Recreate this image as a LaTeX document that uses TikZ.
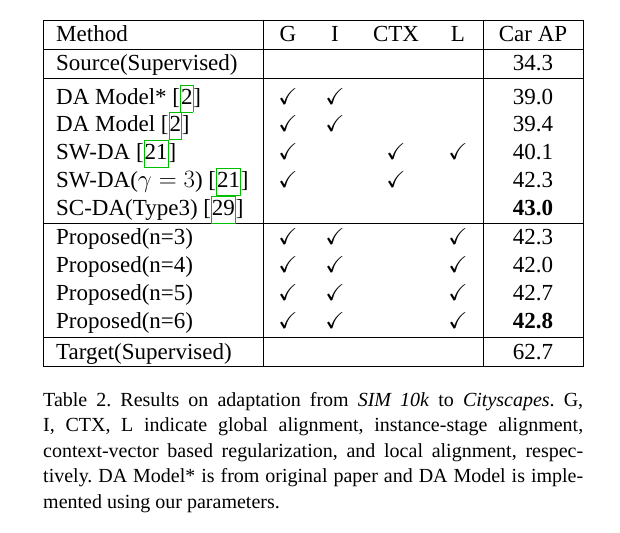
\documentclass[tikz,border=0pt]{standalone}
\usepackage{amssymb}
\usepackage{fontspec}
\setmainfont{Liberation Serif}
\frenchspacing
\newcommand{\cit}[1]{[{\setlength\fboxsep{0pt}\setlength\fboxrule{0.9pt}\fcolorbox{green!75!black}{white}{\strut#1}}]}
\newcommand{\ck}{$\checkmark$}
\begin{document}
\begin{tikzpicture}[x=1pt,y=-1pt,
  cell/.style={font=\fontsize{23}{26}\selectfont,inner sep=0pt,anchor=base west},
  mid/.style={font=\fontsize{23}{26}\selectfont,inner sep=0pt,anchor=base},
  rule/.style={line width=0.8pt}]
\useasboundingbox (0,0) rectangle (620,532);
\draw[rule] (43,20) rectangle (583,366);
\draw[rule] (263,20) -- (263,366);
\draw[rule] (483,20) -- (483,366);
\foreach \y in {49,78,223,337} \draw[rule] (43,\y) -- (583,\y);
\def\G{288}\def\I{335}\def\C{396}\def\L{458}\def\A{533}
\node[cell] (h0) at (56,42) {Method};
\node[mid] (h1) at (\G,42) {G};
\node[mid] (h2) at (\I,42) {I};
\node[mid] (h3) at (\C,42) {CTX};
\node[mid] (h4) at (\L,42) {L};
\node[mid] (h5) at (\A,42) {Car AP};
\node[cell] (r1) at (56,71) {Source(Supervised)};
\node[mid] (v1) at (\A,71) {34.3};
\node[cell] (r2) at (56,104) {DA Model* \cit{2}};
\node[mid] at (\G,104) {\ck};\node[mid] at (\I,104) {\ck};
\node[mid] (v2) at (\A,104) {39.0};
\node[cell] (r3) at (56,131) {DA Model \cit{2}};
\node[mid] at (\G,131) {\ck};\node[mid] at (\I,131) {\ck};
\node[mid] (v3) at (\A,131) {39.4};
\node[cell] (r4) at (56,159) {SW-DA \cit{21}};
\node[mid] at (\G,159) {\ck};\node[mid] at (\C,159) {\ck};\node[mid] at (\L,159) {\ck};
\node[mid] (v4) at (\A,159) {40.1};
\node[cell] (r5) at (56,187) {SW-DA($\gamma=3$) \cit{21}};
\node[mid] at (\G,187) {\ck};\node[mid] at (\C,187) {\ck};
\node[mid] (v5) at (\A,187) {42.3};
\node[cell] (r6) at (56,215) {SC-DA(Type3) \cit{29}};
\node[mid] (v6) at (\A,215) {\textbf{43.0}};
\foreach \n/\y/\v in {3/244/42.3,4/272/42.0,5/300/42.7,6/328/\textbf{42.8}}{
  \node[cell] at (56,\y) {Proposed(n=\n)};
  \node[mid] at (\G,\y) {\ck};\node[mid] at (\I,\y) {\ck};\node[mid] at (\L,\y) {\ck};
  \node[mid] at (\A,\y) {\v};
}
\node[cell] (r7) at (56,359) {Target(Supervised)};
\node[mid] (v7) at (\A,359) {62.7};
\node[inner sep=0pt,anchor=north west,text width=540pt,align=justify,
  font=\fontsize{20}{25.5}\selectfont] (cap) at (43,392)
  {Table 2. Results on adaptation from \textit{SIM 10k} to \textit{Cityscapes}. G,\linebreak
   I, CTX, L indicate global alignment, instance-stage alignment,\linebreak
   context-vector based regularization, and local alignment, respec-\linebreak
   tively. DA Model* is from original paper and DA Model is imple-\linebreak
   mented using our parameters.};
\end{tikzpicture}
\end{document}
